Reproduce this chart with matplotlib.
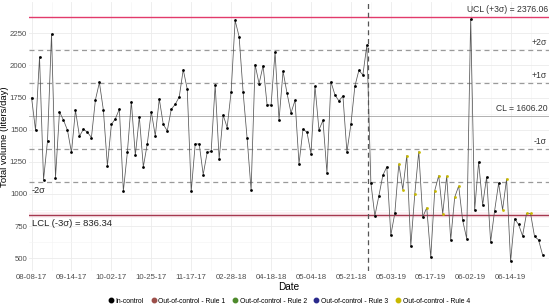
import matplotlib
matplotlib.use("Agg")
import matplotlib.pyplot as plt
from matplotlib.lines import Line2D

plt.rcParams["font.family"] = ["Liberation Sans", "DejaVu Sans"]

# -------------------------
# Data
# -------------------------

volume = [
    1750, 1496, 2067, 1111, 1412, 2245, 1127, 1638, 1575, 1496,
    1323, 1651, 1449, 1504, 1480, 1439, 1732, 1868, 1651, 1219,
    1541, 1585, 1661, 1022, 1323, 1719, 1300, 1601, 1211, 1391,
    1640, 1452, 1740, 1541, 1491, 1659, 1698, 1755, 1968, 1816,
    1020, 1389, 1389, 1151, 1323, 1331, 1850, 1271, 1614, 1517,
    1797, 2350, 2224, 1792, 1433, 1030, 2007, 1858, 1999, 1695,
    1690, 2104, 1575, 1955, 1784, 1630, 1729, 1234, 1504, 1480,
    1313, 1839, 1499, 1572, 1164, 1873, 1771, 1724, 1763, 1326,
    1541, 1839, 1962, 1926, 2159, 1088, 828, 984, 1145, 1211,
    679, 849, 1234, 1034, 1299, 594, 997, 1330, 820, 893,
    508, 1026, 1143, 846, 1140, 643, 974, 1062, 794, 653,
    2360, 875, 1249, 914, 1132, 627, 869, 1083, 877, 1117,
    477, 807, 763, 674, 849, 849, 669, 643, 528,
]

# points flagged by rule 4 (all others are in control)
rule4_idx = [92, 93, 94, 96, 97, 99, 101, 102, 103, 104, 106, 107,
             118, 119, 124, 125]

tick_idx = [0, 10, 20, 30, 40, 50, 60, 70, 80, 90, 100, 110, 120]
tick_labels = ["08-08-17", "09-14-17", "10-02-17", "10-25-17", "11-17-17",
               "02-28-18", "04-18-18", "05-04-18", "05-21-18", "05-03-19",
               "05-17-19", "06-02-19", "06-14-19"]

ucl = 2376.06
cl = 1606.20
lcl = 836.34
phase_break = 84.3

sigma = (ucl - cl) / 3
x = list(range(len(volume)))

# -------------------------
# Figure
# -------------------------

fig = plt.figure(figsize=(5.5, 3.08), dpi=100)
ax = fig.add_axes([0.053, 0.12, 0.945, 0.874])

ax.set_xlim(-0.6, 129.6)
ax.set_ylim(400, 2495)

for s in ax.spines.values():
    s.set_visible(False)

ax.set_yticks([500, 750, 1000, 1250, 1500, 1750, 2000, 2250])
ax.set_yticks([625, 875, 1125, 1375, 1625, 1875, 2125, 2375], minor=True)
ax.set_xticks(tick_idx)
ax.set_xticklabels(tick_labels)
ax.set_xticks([5, 15, 25, 35, 45, 55, 65, 75, 85, 95, 105, 115, 125], minor=True)

ax.grid(True, which="major", color="#ebebeb", linewidth=0.6)
ax.grid(True, which="minor", color="#f4f4f4", linewidth=0.4)
ax.set_axisbelow(True)
ax.tick_params(which="both", length=0)
ax.tick_params(axis="y", labelsize=5.6, labelcolor="#4d4d4d", pad=1.5)
ax.tick_params(axis="x", labelsize=5.6, labelcolor="#4d4d4d", pad=2)

ax.set_xlabel("Date", fontsize=7.2, labelpad=1)
ax.set_ylabel("Total volume (liters/day)", fontsize=6.8, labelpad=0.5)

# faint band around LCL
ax.axhspan(lcl - 22, lcl + 22, color="#f7c6d3", alpha=0.25, lw=0, zorder=0)

# control lines
ax.axhline(ucl, color="#e23b6b", linewidth=1.0, zorder=1)
ax.axhline(lcl, color="#a5384f", linewidth=1.0, zorder=1)
ax.axhline(cl, color="#b0b0b0", linewidth=0.7, zorder=1)
for k in [-2, -1, 1, 2]:
    ax.axhline(cl + k * sigma, color="#9a9a9a", linewidth=0.9,
               linestyle=(0, (4, 3)), zorder=1)

ax.axvline(phase_break, color="#555555", linewidth=0.9,
           linestyle=(0, (4, 3)), zorder=1)

# series
ax.plot(x, volume, color="#555555", linewidth=0.55, zorder=2)

in_x = [i for i in x if i not in rule4_idx]
in_y = [volume[i] for i in in_x]
r4_y = [volume[i] for i in rule4_idx]
ax.scatter(in_x, in_y, s=4, color="black", zorder=3, linewidths=0)
ax.scatter(rule4_idx, r4_y, s=4, color="#c8b900", zorder=3, linewidths=0)

# labels for lines
ax.text(129.3, ucl + 25, "UCL (+3\u03c3) = 2376.06", ha="right", va="bottom",
        fontsize=6.2, color="#333333")
ax.text(129.0, cl + 2 * sigma + 25, "+2\u03c3", ha="right", va="bottom",
        fontsize=6.2, color="#333333")
ax.text(129.0, cl + sigma + 25, "+1\u03c3", ha="right", va="bottom",
        fontsize=6.2, color="#333333")
ax.text(129.3, cl + 25, "CL = 1606.20", ha="right", va="bottom",
        fontsize=6.2, color="#333333")
ax.text(129.0, cl - sigma + 25, "-1\u03c3", ha="right", va="bottom",
        fontsize=6.2, color="#333333")
ax.text(0.0, cl - 2 * sigma - 30, "-2\u03c3", ha="left", va="top",
        fontsize=6.6, color="#222222")
ax.text(0.0, lcl - 30, "LCL (-3\u03c3) = 836.34", ha="left", va="top",
        fontsize=6.8, color="#222222")

# legend
names = ["In-control", "Out-of-control - Rule 1", "Out-of-control - Rule 2",
         "Out-of-control - Rule 3", "Out-of-control - Rule 4"]
colors = ["black", "#9c4f4a", "#4e8a2c", "#2a2a8c", "#c8b900"]
handles = [Line2D([], [], marker="o", linestyle="", markersize=3.2,
                  color=c, label=n) for n, c in zip(names, colors)]
fig.legend(handles=handles, loc="center", bbox_to_anchor=(0.525, 0.022),
           ncol=5, frameon=False, fontsize=4.9, handletextpad=0.2,
           columnspacing=0.9, handlelength=1.0)

plt.savefig("out.png", dpi=100)
plt.close()
